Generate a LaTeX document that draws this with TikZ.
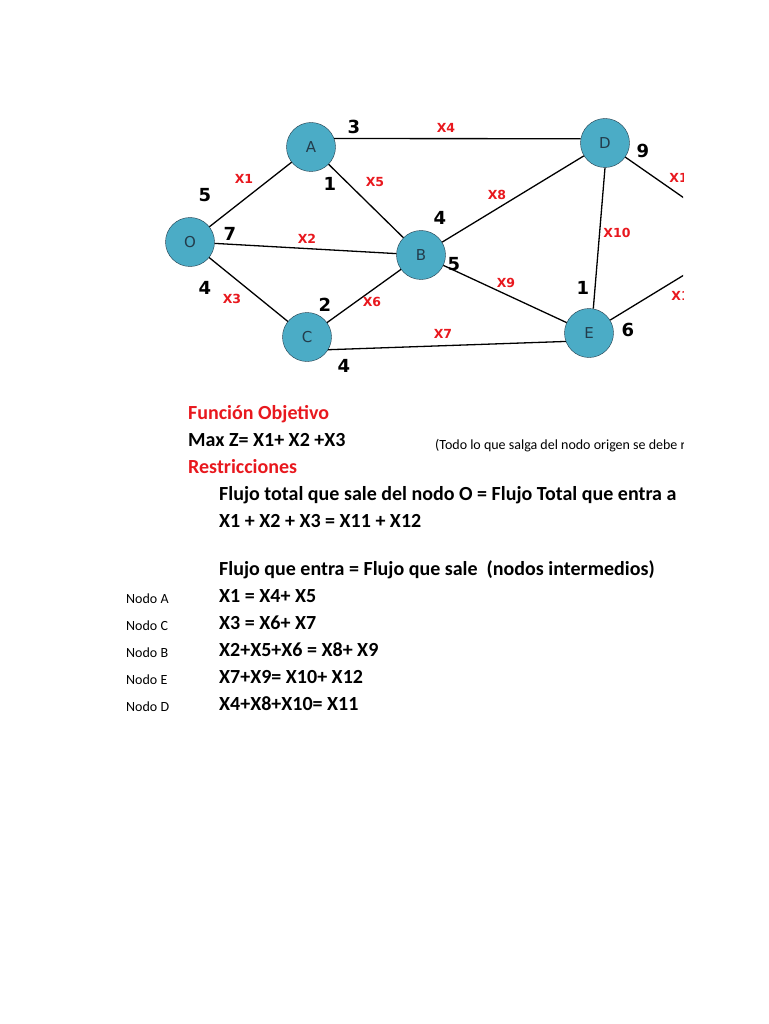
\documentclass[tikz,border=0pt]{standalone}
\usepackage{fontspec}
\setmainfont{Carlito}
\newfontfamily\grafofont{DejaVu Sans}
\usetikzlibrary{positioning}
\definecolor{nodoazul}{RGB}{75,172,198}
\definecolor{nodoborde}{RGB}{35,60,75}
\definecolor{rojo}{RGB}{232,24,30}
\tikzset{
    nodo/.style={ % circulos del grafo
        circle,
        draw=nodoborde,
        fill=nodoazul,
        minimum size=49pt,
        inner sep=0pt,
        text=nodoborde,
        font=\grafofont\fontsize{15}{15}\selectfont
    },
    arista/.style={draw, line width=1.3pt},
    peso/.style={font=\grafofont\bfseries\fontsize{18}{18}\selectfont},
    var/.style={text=rojo, font=\grafofont\bfseries\fontsize{12.5}{12.5}\selectfont},
    linea/.style={anchor=base west, inner sep=0pt, font=\bfseries\fontsize{20}{24}\selectfont},
    titulo/.style={linea, text=rojo},
    nota/.style={anchor=base west, inner sep=0pt, font=\fontsize{14}{16}\selectfont}
}

\begin{document}
\begin{tikzpicture}[x=1pt,y=-1pt]
    \useasboundingbox (0,0) rectangle (768,1024);
    \clip (0,0) rectangle (683,1024);
    % nodos
    \node[nodo] (O) at (190,242) {O};
    \node[nodo] (A) at (311,147) {A};
    \node[nodo] (B) at (421,255) {B};
    \node[nodo] (C) at (307,337) {C};
    \node[nodo] (D) at (605,143) {D};
    \node[nodo] (E) at (589,333) {E};
    \coordinate (dt) at (684,198);
    \coordinate (et) at (684,275);

    % aristas
    \draw[arista]
        (O) -- (A)
        (O) -- (B)
        (O) -- (C)
        (A.20) -- (D.170)
        (A) -- (B)
        (C) -- (B)
        (C.-31) -- (E.200)
        (B) -- (D)
        (B) -- (E)
        (D.south) -- (E.80)
        (D) -- (dt)
        (E) -- (et);

    % pesos
    \node[peso] (wOA) at (205,195) {5};
    \node[peso] (wOB) at (230,234) {7};
    \node[peso] (wOC) at (205,288) {4};
    \node[peso] (wAD) at (354,127) {3};
    \node[peso] (wAB) at (330,184) {1};
    \node[peso] (wBD) at (440,218) {4};
    \node[peso] (wBE) at (454,264) {5};
    \node[peso] (wCB) at (325,305) {2};
    \node[peso] (wCE) at (344,366) {4};
    \node[peso] (wDT) at (643,151) {9};
    \node[peso] (wED) at (583,288) {1};
    \node[peso] (wET) at (628,330) {6};

    % variables
    \node[var] (x1)  at (244,179) {X1};
    \node[var] (x2)  at (307,239) {X2};
    \node[var] (x3)  at (232,299) {X3};
    \node[var] (x4)  at (446,128) {X4};
    \node[var] (x5)  at (375,182) {X5};
    \node[var] (x6)  at (372,302) {X6};
    \node[var] (x7)  at (443,334) {X7};
    \node[var] (x8)  at (497,195) {X8};
    \node[var] (x9)  at (506,283) {X9};
    \node[var] (x10) at (617,233) {X10};
    \node[var] (x11) at (683,178) {X11};
    \node[var] (x12) at (685,296) {X12};

    % modelo
    \node[titulo] (fo)    at (188,419.5) {Función Objetivo};
    \node[linea]  (maxz)  at (188,446.5) {Max Z= X1+ X2 +X3};
    \node[nota]   (todo)  at (435,449)   {(Todo lo que salga del nodo origen se debe recibir};
    \node[titulo] (res)   at (188,473.5) {Restricciones};
    \node[linea]  (flt)   at (219,500.5) {Flujo total que sale del nodo O = Flujo Total que entra a};
    \node[linea]  (r1)    at (219,527.5) {X1 + X2 + X3 = X11 + X12};
    \node[linea]  (fle)   at (219,575.5) {Flujo que entra = Flujo que sale\ \ (nodos intermedios)};
    \node[linea]  (r2)    at (219,602.5) {X1 = X4+ X5};
    \node[linea]  (r3)    at (219,629.5) {X3 = X6+ X7};
    \node[linea]  (r4)    at (219,656.5) {X2+X5+X6 = X8+ X9};
    \node[linea]  (r5)    at (219,683.5) {X7+X9= X10+ X12};
    \node[linea]  (r6)    at (219,710.5) {X4+X8+X10= X11};
    % etiquetas de nodo
    \node[nota] (nA) at (126,603) {Nodo A};
    \node[nota] (nC) at (126,630) {Nodo C};
    \node[nota] (nB) at (126,657) {Nodo B};
    \node[nota] (nE) at (126,684) {Nodo E};
    \node[nota] (nD) at (126,711) {Nodo D};
\end{tikzpicture}
\end{document}
